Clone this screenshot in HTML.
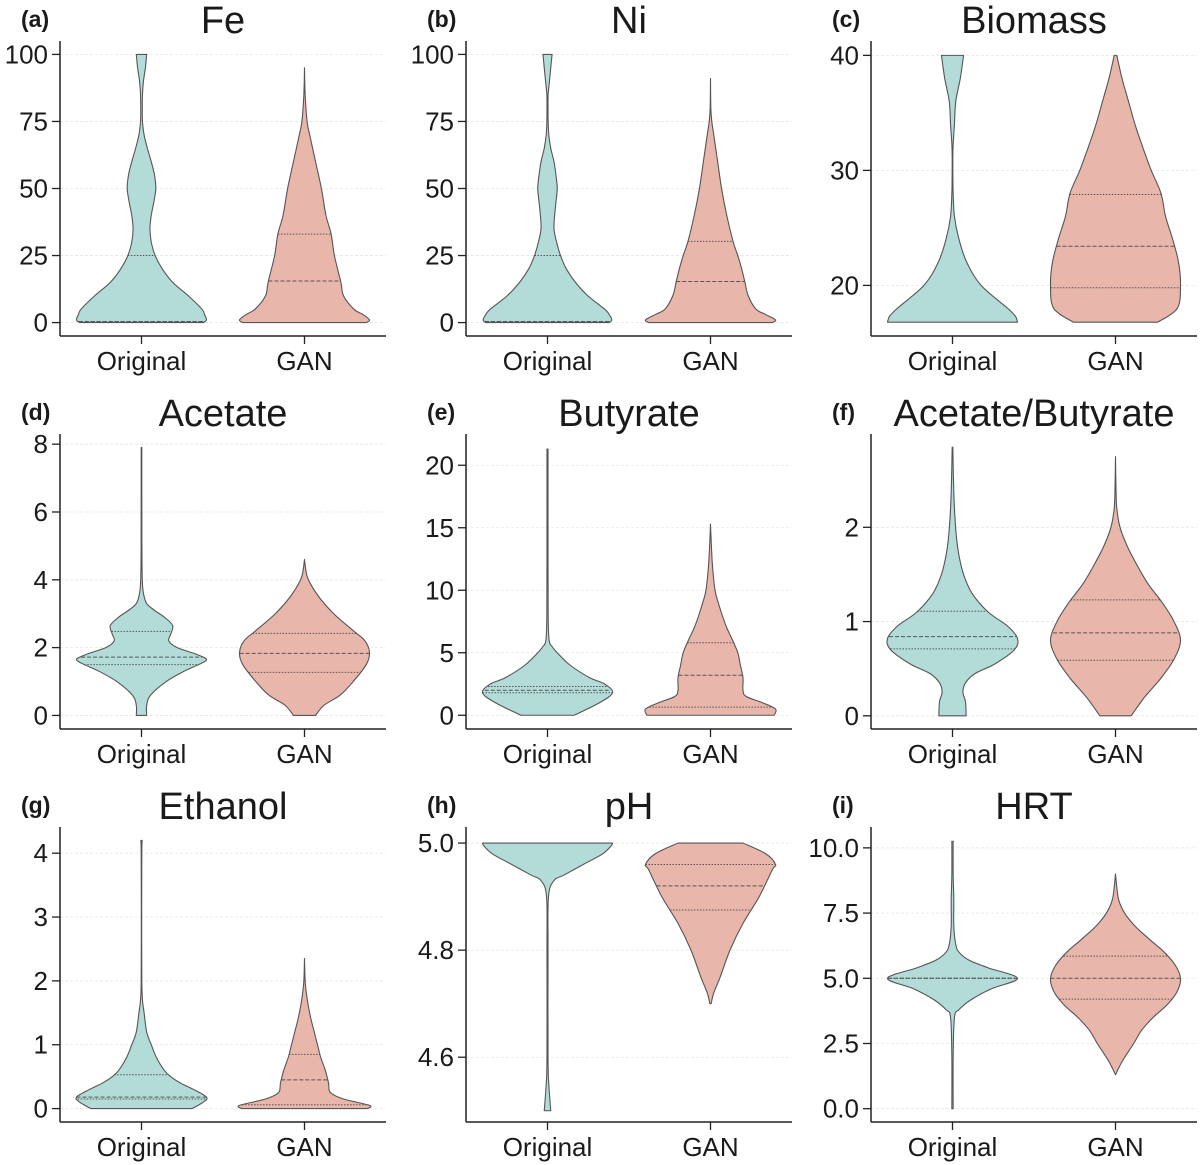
<!DOCTYPE html>
<html><head><meta charset="utf-8"><style>
html,body{margin:0;padding:0;background:#fff;}
svg{display:block;font-family:"Liberation Sans",Arial,sans-serif;}
</style></head><body>
<svg id="fig" width="1200" height="1165" viewBox="0 0 1200 1165" xmlns="http://www.w3.org/2000/svg"></svg>
<script>
// ---- data ----
const panelTitles = ["Fe","Ni","Biomass","Acetate","Butyrate","Acetate/Butyrate","Ethanol","pH","HRT"];
const panelLetters = ["(a)","(b)","(c)","(d)","(e)","(f)","(g)","(h)","(i)"];
const categories = ["Original","GAN"];
const yLimits = [[-5,105],[-5,105],[15.6,41.25],[-0.4,8.3],[-1.1,22.5],[-0.14,2.99],[-0.21,4.41],[4.479,5.03],[-0.51,10.8]];
const yTicks = [[0,25,50,75,100],[0,25,50,75,100],[20,30,40],[0,2,4,6,8],[0,5,10,15,20],[0,1,2],[0,1,2,3,4],[4.6,4.8,5.0],[0,2.5,5,7.5,10]];
const yTickLabels = [["0","25","50","75","100"],["0","25","50","75","100"],["20","30","40"],["0","2","4","6","8"],["0","5","10","15","20"],["0","1","2"],["0","1","2","3","4"],["4.6","4.8","5.0"],["0.0","2.5","5.0","7.5","10.0"]];
// violin density profiles: values & relative half-widths [Original, GAN]
const origValues = [
 [0,1,3,5,10,15,20,25,30,35,40,45,50,55,60,65,70,75,80,85,90,95,100],
 [0,1,3,5,10,15,20,25,30,35,40,45,50,55,60,65,70,75,80,85,90,95,100],
 [16.8,17.3,18,20,22,24,26,28,30,32,34,36,38,40],
 [0,0.3,0.6,1.0,1.3,1.5,1.65,1.8,2.0,2.2,2.4,2.65,2.9,3.1,3.3,3.6,4,5,7.9],
 [0,1,1.8,2.5,3,4,5,5.5,6,8,15,21.3],
 [0,0.15,0.25,0.35,0.45,0.55,0.7,0.82,0.95,1.1,1.3,1.5,1.7,1.9,2.2,2.5,2.85],
 [0,0.1,0.18,0.3,0.4,0.5,0.6,0.8,1.0,1.2,1.5,1.7,2,3,4,4.2],
 [4.5,4.55,4.6,4.8,4.9,4.93,4.94,4.96,4.98,4.995,5.0],
 [0,2,3.5,3.8,4.2,4.6,5.0,5.4,5.7,6.0,6.3,7,8,9,10.25]
];
const origWidths = [
 [0.95,1.0,0.97,0.93,0.72,0.48,0.32,0.21,0.15,0.13,0.15,0.19,0.22,0.2,0.15,0.09,0.04,0.015,0.012,0.015,0.03,0.06,0.08],
 [0.95,0.99,0.95,0.88,0.62,0.43,0.29,0.2,0.14,0.1,0.11,0.13,0.15,0.13,0.1,0.05,0.02,0.01,0.008,0.01,0.03,0.05,0.07],
 [1.0,0.97,0.85,0.44,0.22,0.1,0.03,0.01,0.005,0.008,0.03,0.05,0.12,0.17],
 [0.08,0.08,0.14,0.38,0.65,0.88,1.0,0.85,0.55,0.42,0.45,0.48,0.35,0.2,0.08,0.03,0.012,0.006,0.005],
 [0.41,0.8,1.0,0.88,0.65,0.35,0.15,0.07,0.025,0.01,0.008,0.008],
 [0.21,0.2,0.16,0.2,0.35,0.65,0.95,1.0,0.85,0.55,0.3,0.17,0.1,0.06,0.03,0.015,0.005],
 [0.78,0.95,1.0,0.8,0.6,0.45,0.35,0.23,0.15,0.08,0.04,0.015,0.005,0.003,0.005,0.01],
 [0.05,0.02,0.008,0.008,0.015,0.1,0.25,0.55,0.85,0.98,1.0],
 [0.01,0.01,0.03,0.1,0.3,0.6,1.0,0.55,0.25,0.1,0.05,0.02,0.02,0.01,0.01]
];
const ganValues = [
 [0,1,3,5,10,15,25,33,40,50,60,70,75,85,95],
 [0,1,3,5,10,15,20,25,30,40,50,60,70,75,80,91],
 [16.8,18,20,22,24,26,28,30,32,34,36,38,40],
 [0,0.3,0.6,1.0,1.5,1.85,2.2,2.5,3.0,3.5,4.0,4.3,4.6],
 [0,0.5,1.0,1.5,2,3,4,5,6,7,8,9,10,12,14,15.3],
 [0,0.2,0.4,0.6,0.8,1.0,1.2,1.4,1.6,1.8,2.0,2.2,2.4,2.75],
 [0,0.05,0.15,0.25,0.4,0.6,0.8,1.0,1.2,1.4,1.6,1.8,2.0,2.35],
 [4.7,4.72,4.75,4.8,4.85,4.9,4.95,4.96,4.98,5.0],
 [1.3,1.8,2.5,3.0,3.5,4.0,4.5,5.0,5.5,6.0,6.5,7.0,7.5,8.0,8.5,9.0]
];
const ganWidths = [
 [0.95,1.0,0.9,0.76,0.6,0.56,0.46,0.41,0.33,0.26,0.17,0.08,0.04,0.01,0.0],
 [0.95,1.0,0.85,0.7,0.58,0.53,0.48,0.42,0.35,0.25,0.17,0.11,0.05,0.02,0.005,0.0],
 [0.65,0.95,1.0,0.97,0.88,0.77,0.7,0.55,0.42,0.3,0.2,0.1,0.02],
 [0.17,0.3,0.55,0.75,0.95,1.0,0.93,0.75,0.45,0.22,0.06,0.02,0.0],
 [0.98,1.0,0.8,0.55,0.5,0.5,0.46,0.42,0.34,0.25,0.18,0.12,0.07,0.03,0.01,0.0],
 [0.24,0.45,0.7,0.9,1.0,0.9,0.72,0.5,0.33,0.18,0.07,0.02,0.008,0.0],
 [0.97,1.0,0.6,0.4,0.37,0.32,0.25,0.2,0.15,0.1,0.06,0.03,0.01,0.0],
 [0.01,0.05,0.15,0.3,0.5,0.75,0.95,1.0,0.85,0.5],
 [0.0,0.1,0.28,0.4,0.58,0.8,0.95,1.0,0.92,0.75,0.52,0.3,0.14,0.05,0.02,0.0]
];
// quartiles [q1, median, q3]
const origQuartiles = [[0.4,0.4,25],[0.4,0.4,25],[null,null,null],[1.5,1.72,2.48],[1.8,2.0,2.3],[0.71,0.84,1.11],[0.15,0.18,0.53],[null,null,null],[5,5,5]];
const ganQuartiles = [[null,15.5,33],[null,15.3,30.3],[19.8,23.4,27.9],[1.27,1.83,2.42],[0.65,3.2,5.8],[0.59,0.88,1.23],[0.06,0.45,0.85],[4.875,4.92,4.96],[4.2,5.0,5.85]];

// ---- drawing ----
const NS = "http://www.w3.org/2000/svg";
const svg = document.getElementById("fig");
function mk(tag, attrs, parent){ const e=document.createElementNS(NS,tag); for(const k in attrs) e.setAttribute(k,attrs[k]); (parent||svg).appendChild(e); return e; }
const colX = [60,466,871], rowB = [336,729,1122];
const PW = 326, PH = 295, HALF = 65;
const fills = ["#b3dcd8","#e8b6aa"];

function interp(vals, ws, v){
  if(v<=vals[0]) return ws[0];
  for(let i=1;i<vals.length;i++){ if(v<=vals[i]){ const t=(v-vals[i-1])/(vals[i]-vals[i-1]); return ws[i-1]+t*(ws[i]-ws[i-1]); } }
  return ws[ws.length-1];
}
function smoothPath(pts){
  let d = "M"+pts[0][0].toFixed(2)+","+pts[0][1].toFixed(2);
  for(let i=0;i<pts.length-1;i++){
    const p0=pts[Math.max(0,i-1)], p1=pts[i], p2=pts[i+1], p3=pts[Math.min(pts.length-1,i+2)];
    const c1=[p1[0]+(p2[0]-p0[0])/6, p1[1]+(p2[1]-p0[1])/6];
    const c2=[p2[0]-(p3[0]-p1[0])/6, p2[1]-(p3[1]-p1[1])/6];
    d+=" C"+c1[0].toFixed(2)+","+c1[1].toFixed(2)+" "+c2[0].toFixed(2)+","+c2[1].toFixed(2)+" "+p2[0].toFixed(2)+","+p2[1].toFixed(2);
  }
  return d;
}

for(let p=0;p<9;p++){
  const x0 = colX[p%3], yb = rowB[Math.floor(p/3)], yt = yb-PH;
  const [lo,hi] = yLimits[p];
  const yS = v => yb - (v-lo)/(hi-lo)*PH;
  const xS = c => x0 + (c+0.5)/2*PW;
  const g = mk("g",{});
  
  

  yTicks[p].forEach((t,i)=>{
    const y=yS(t);
    const gl = mk("line",{x1:x0,x2:x0+PW,y1:y,y2:y,stroke:"#e6e6e6","stroke-width":0.8,"stroke-dasharray":"3,2"},g);
    
    
    const tk = mk("line",{x1:x0-8,x2:x0,y1:y,y2:y,stroke:"#222","stroke-width":1.3},g);
    
    
    const tl = mk("text",{x:x0-12,y:y+9,"text-anchor":"end","font-size":26,fill:"#1a1a1a"},g);
    tl.textContent = yTickLabels[p][i];
    
    
  });

  for(let c=0;c<2;c++){
    const vals = c===0?origValues[p]:ganValues[p];
    const ws = c===0?origWidths[p]:ganWidths[p];
    const cx = xS(c);
    const right = vals.map((v,i)=>[cx+ws[i]*HALF, yS(v)]);
    const left = vals.map((v,i)=>[cx-ws[i]*HALF, yS(v)]).reverse();
    let d = smoothPath(right);
    d += " L"+left[0][0].toFixed(2)+","+left[0][1].toFixed(2);
    d += smoothPath(left).replace(/^M[^ C]+/,"");
    d += " Z";
    const path = mk("path",{d:d,fill:fills[c],stroke:"#555","stroke-width":1.1,"stroke-linejoin":"round"},g);
    
    
    const qs = c===0?origQuartiles[p]:ganQuartiles[p];
    qs.forEach((q,k)=>{
      if(q===null) return;
      const w = interp(vals,ws,q)*HALF;
      const ql = mk("line",{x1:cx-w,x2:cx+w,y1:yS(q),y2:yS(q),stroke:"#555","stroke-width":1,"stroke-dasharray":k===1?"4,2":"1.5,1.5"},g);
      
      
    });
  }

  const ya = mk("line",{x1:x0,x2:x0,y1:yt,y2:yb,stroke:"#222","stroke-width":1.5},g);
  
  
  const xa = mk("line",{x1:x0,x2:x0+PW,y1:yb,y2:yb,stroke:"#222","stroke-width":1.5},g);
  
  
  categories.forEach((cat,c)=>{
    const cx=xS(c);
    const tk = mk("line",{x1:cx,x2:cx,y1:yb,y2:yb+8,stroke:"#222","stroke-width":1.3},g);
    
    
    const tl = mk("text",{x:cx,y:yb+34,"text-anchor":"middle","font-size":26,fill:"#1a1a1a"},g);
    tl.textContent = cat;
    
    
  });

  const tt = mk("text",{x:x0+PW/2,y:yb-303,"text-anchor":"middle","font-size":38,fill:"#1a1a1a"},g);
  tt.textContent = panelTitles[p];
  
  
  const lt = mk("text",{x:x0-39,y:yb-309,"font-size":23,"font-weight":"bold",fill:"#1a1a1a"},g);
  lt.textContent = panelLetters[p];
  
  
}
</script>
</body></html>
